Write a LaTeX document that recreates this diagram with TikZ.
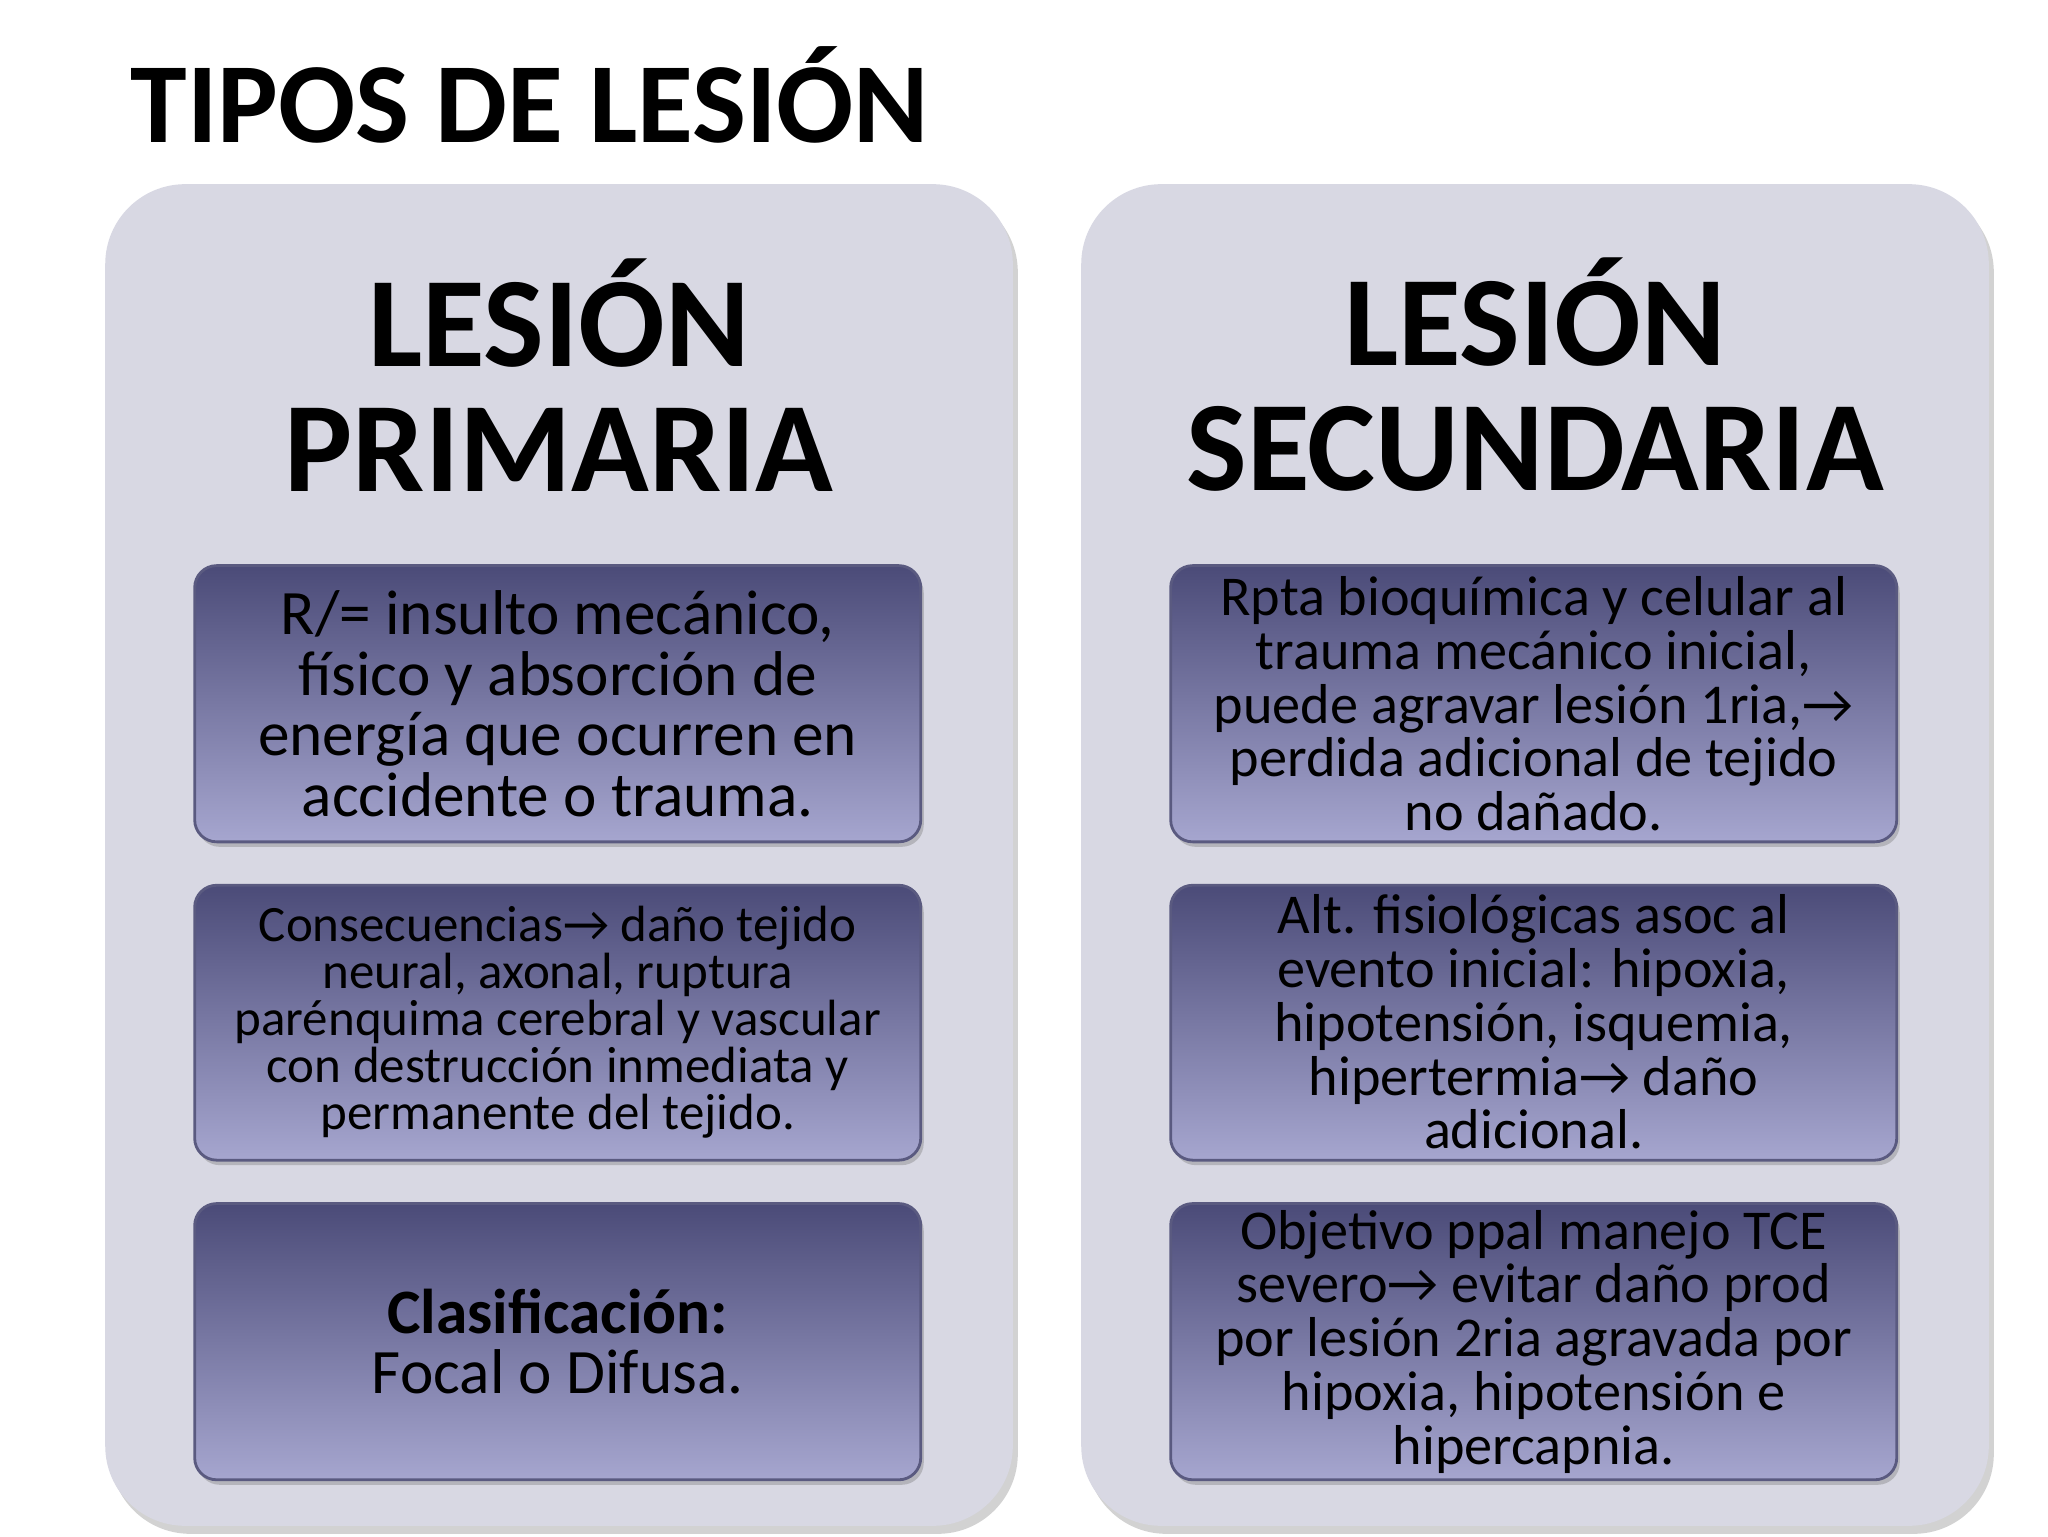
\documentclass[tikz,border=0pt]{standalone}
\usepackage{fontspec}
\setmainfont{Carlito}
\usetikzlibrary{shadows}
\begin{document}
\begin{tikzpicture}[x=0.01315cm,y=-0.01315cm,
  panel/.style={draw=none,fill=panelc,rounded corners=0.8cm,drop shadow={shadow xshift=0.05cm,shadow yshift=-0.08cm,opacity=0.35}},
  card/.style={draw=cardline,line width=0.8pt,rounded corners=0.22cm,top color=cardtop,bottom color=cardbot,drop shadow={shadow xshift=0.03cm,shadow yshift=-0.05cm,opacity=0.4}},
  head/.style={font=\bfseries\fontsize{36.5}{35.5}\selectfont,align=center,text=black},
  ctext/.style={align=center,text=black}]
\definecolor{panelc}{HTML}{D8D8E3}
\definecolor{cardtop}{HTML}{4B4B78}
\definecolor{cardbot}{HTML}{A6A6CF}
\definecolor{cardline}{HTML}{5A5A80}
\fill[white] (0,0) rectangle (1557,1168);
\node[anchor=west,font=\bfseries\fontsize{32.5}{36}\selectfont] (title) at (90,72) {TIPOS DE LESIÓN};
\filldraw[panel] (80,140) rectangle (770,1160);
\filldraw[panel] (822,140) rectangle (1512,1160);
\node[head] (h1) at (425,285) {LESIÓN\\PRIMARIA};
\node[head] (h2) at (1167,285) {LESIÓN\\SECUNDARIA};
\filldraw[card] (148,430) rectangle (700,640);
\filldraw[card] (148,673) rectangle (700,882);
\filldraw[card] (148,915) rectangle (700,1125);
\filldraw[card] (890,430) rectangle (1442,640);
\filldraw[card] (890,673) rectangle (1442,882);
\filldraw[card] (890,915) rectangle (1442,1125);
\node[ctext,font=\fontsize{18}{17.2}\selectfont] (l1) at (424,535) {R/= insulto mecánico,\\físico y absorción de\\energía que ocurren en\\accidente o trauma.};
\node[ctext,font=\fontsize{14.5}{13.4}\selectfont] (l2) at (424,777) {Consecuencias→ daño tejido\\neural, axonal, ruptura\\parénquima cerebral y vascular\\con destrucción inmediata y\\permanente del tejido.};
\node[ctext,font=\fontsize{18}{17.2}\selectfont] (l3) at (424,1020) {\textbf{Clasificación:}\\Focal o Difusa.};
\node[ctext,font=\fontsize{16}{15.3}\selectfont] (r1) at (1166,535) {Rpta bioquímica y celular al\\trauma mecánico inicial,\\puede agravar lesión 1ria,→\\perdida adicional de tejido\\no dañado.};
\node[ctext,font=\fontsize{16}{15.3}\selectfont] (r2) at (1166,777) {Alt. fisiológicas asoc al\\evento inicial: hipoxia,\\hipotensión, isquemia,\\hipertermia→ daño\\adicional.};
\node[ctext,font=\fontsize{16}{15.3}\selectfont] (r3) at (1166,1020) {Objetivo ppal manejo TCE\\severo→ evitar daño prod\\por lesión 2ria agravada por\\hipoxia, hipotensión e\\hipercapnia.};
\end{tikzpicture}
\end{document}
